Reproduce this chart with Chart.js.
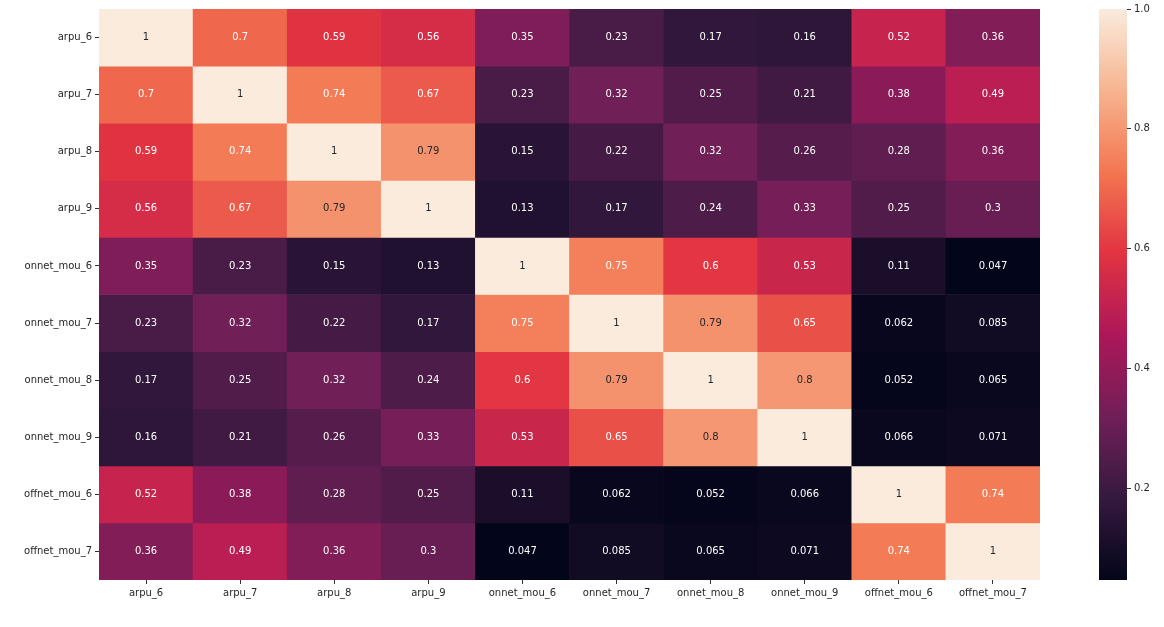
<!DOCTYPE html>
<html>
<head>
<meta charset="utf-8">
<script src="https://cdn.jsdelivr.net/npm/chart.js@4/dist/chart.umd.min.js"></script>
<style>
    html, body { margin: 0; padding: 0; background: #fff; }
    #wrap { position: relative; width: 1164px; height: 627px; }
    #heatBox { position: absolute; left: 0; top: 0; width: 1060px; height: 627px; }
    #barBox { position: absolute; left: 1060px; top: 0; width: 104px; height: 627px; }
</style>
</head>
<body>
<div id="wrap">
    <div id="heatBox"><canvas id="heatChart"></canvas></div>
    <div id="barBox"><canvas id="colorBar"></canvas></div>
</div>
<script>
// Column and row labels (same variables both ways)
const labels = ['arpu_6', 'arpu_7', 'arpu_8', 'arpu_9', 'onnet_mou_6', 'onnet_mou_7',
    'onnet_mou_8', 'onnet_mou_9', 'offnet_mou_6', 'offnet_mou_7'];

// Correlation values, one array per row
const arpu6 = [1, 0.7, 0.59, 0.56, 0.35, 0.23, 0.17, 0.16, 0.52, 0.36];
const arpu7 = [0.7, 1, 0.74, 0.67, 0.23, 0.32, 0.25, 0.21, 0.38, 0.49];
const arpu8 = [0.59, 0.74, 1, 0.79, 0.15, 0.22, 0.32, 0.26, 0.28, 0.36];
const arpu9 = [0.56, 0.67, 0.79, 1, 0.13, 0.17, 0.24, 0.33, 0.25, 0.3];
const onnet6 = [0.35, 0.23, 0.15, 0.13, 1, 0.75, 0.6, 0.53, 0.11, 0.047];
const onnet7 = [0.23, 0.32, 0.22, 0.17, 0.75, 1, 0.79, 0.65, 0.062, 0.085];
const onnet8 = [0.17, 0.25, 0.32, 0.24, 0.6, 0.79, 1, 0.8, 0.052, 0.065];
const onnet9 = [0.16, 0.21, 0.26, 0.33, 0.53, 0.65, 0.8, 1, 0.066, 0.071];
const offnet6 = [0.52, 0.38, 0.28, 0.25, 0.11, 0.062, 0.052, 0.066, 1, 0.74];
const offnet7 = [0.36, 0.49, 0.36, 0.3, 0.047, 0.085, 0.065, 0.071, 0.74, 1];
const rows = [arpu6, arpu7, arpu8, arpu9, onnet6, onnet7, onnet8, onnet9, offnet6, offnet7];

// Colour bar range and ticks
const vmin = 0.047;
const vmax = 1;
const barTicks = [0.2, 0.4, 0.6, 0.8, 1.0];

// seaborn "rocket" colormap stops
const rocket = [
    [0, '#03051a'], [1 / 7, '#35193e'], [2 / 7, '#701f57'], [3 / 7, '#ad1759'],
    [4 / 7, '#e13342'], [5 / 7, '#f37651'], [6 / 7, '#f6b48f'], [1, '#faebdd']
];

const FONT = { family: 'DejaVu Sans', size: 10 };
const DARK = '#262626';

function hexToRgb(h) {
    return [parseInt(h.slice(1, 3), 16), parseInt(h.slice(3, 5), 16), parseInt(h.slice(5, 7), 16)];
}

function colorAt(v) {
    let t = (v - vmin) / (vmax - vmin);
    t = Math.max(0, Math.min(1, t));
    for (let i = 1; i < rocket.length; i++) {
        if (t <= rocket[i][0]) {
            const [t0, c0] = rocket[i - 1];
            const [t1, c1] = rocket[i];
            const f = (t - t0) / (t1 - t0);
            const a = hexToRgb(c0), b = hexToRgb(c1);
            return a.map((x, k) => Math.round(x + (b[k] - x) * f));
        }
    }
    return hexToRgb(rocket[rocket.length - 1][1]);
}

function rgbStr(c) {
    return 'rgb(' + c.join(',') + ')';
}

// same rule seaborn uses to pick annotation colour
function luminance(c) {
    const lin = c.map(x => {
        x = x / 255;
        return x <= 0.03928 ? x / 12.92 : Math.pow((x + 0.055) / 1.055, 2.4);
    });
    return 0.2126 * lin[0] + 0.7152 * lin[1] + 0.0722 * lin[2];
}

const annotate = {
    id: 'annotate',
    afterDatasetsDraw(chart) {
        const ctx = chart.ctx;
        ctx.save();
        ctx.font = '10px "DejaVu Sans"';
        ctx.textAlign = 'center';
        ctx.textBaseline = 'middle';
        chart.data.datasets.forEach((ds, i) => {
            const meta = chart.getDatasetMeta(i);
            meta.data.forEach((el, j) => {
                const v = rows[i][j];
                ctx.fillStyle = luminance(colorAt(v)) > 0.408 ? DARK : '#ffffff';
                ctx.fillText(String(v), el.x, (el.y + el.base) / 2);
            });
        });
        ctx.restore();
    }
};

function initHeatmap() {
    const ctx = document.getElementById('heatChart').getContext('2d');

    const datasets = rows.map((row, i) => ({
        label: labels[i],
        data: row.map(() => [i, i + 1]),
        backgroundColor: row.map(v => rgbStr(colorAt(v))),
        borderWidth: 0,
        barPercentage: 1,
        categoryPercentage: 1,
        grouped: false
    }));

    new Chart(ctx, {
        type: 'bar',
        data: { labels: labels, datasets: datasets },
        plugins: [annotate],
        options: {
            responsive: true,
            maintainAspectRatio: false,
            animation: false,
            layout: { padding: { left: 0, right: 20, top: 7, bottom: 0 } },
            plugins: {
                legend: { display: false },
                tooltip: { enabled: false }
            },
            scales: {
                x: {
                    type: 'category',
                    offset: true,
                    grid: {
                        offset: false,
                        drawOnChartArea: false,
                        tickLength: 4,
                        color: '#333333'
                    },
                    border: { display: false },
                    ticks: {
                        color: DARK,
                        font: FONT,
                        padding: 3,
                        maxRotation: 0,
                        autoSkip: false
                    },
                    afterFit(scale) { scale.height = 47; }
                },
                y: {
                    type: 'linear',
                    min: 0,
                    max: rows.length,
                    reverse: true,
                    grid: {
                        drawOnChartArea: false,
                        tickLength: 4,
                        color: '#333333'
                    },
                    border: { display: false },
                    ticks: {
                        color: DARK,
                        font: FONT,
                        padding: 3,
                        autoSkip: false,
                        callback: (v) => labels[Math.round(v - 0.5)]
                    },
                    afterBuildTicks(scale) {
                        scale.ticks = rows.map((r, i) => ({ value: i + 0.5 }));
                    },
                    afterFit(scale) { scale.width = 99; }
                }
            }
        }
    });
}

function initColorBar() {
    const ctx = document.getElementById('colorBar').getContext('2d');

    new Chart(ctx, {
        type: 'bar',
        data: {
            labels: [''],
            datasets: [{
                data: [[vmin, vmax]],
                backgroundColor: (c) => {
                    const area = c.chart.chartArea;
                    if (!area) return null;
                    const g = c.chart.ctx.createLinearGradient(0, area.bottom, 0, area.top);
                    rocket.forEach(([t, col]) => g.addColorStop(t, col));
                    return g;
                },
                borderWidth: 0,
                barPercentage: 1,
                categoryPercentage: 1
            }]
        },
        options: {
            responsive: true,
            maintainAspectRatio: false,
            animation: false,
            layout: { padding: { left: 39, right: 0, top: 7, bottom: 47 } },
            plugins: {
                legend: { display: false },
                tooltip: { enabled: false }
            },
            scales: {
                x: { display: false },
                y: {
                    position: 'right',
                    min: vmin,
                    max: vmax,
                    grid: {
                        drawOnChartArea: false,
                        tickLength: 4,
                        color: '#333333'
                    },
                    border: { display: false },
                    ticks: {
                        color: DARK,
                        font: FONT,
                        padding: 3,
                        callback: (v) => v.toFixed(1)
                    },
                    afterBuildTicks(scale) {
                        scale.ticks = barTicks.map(v => ({ value: v }));
                    },
                    afterFit(scale) { scale.width = 37; }
                }
            }
        }
    });
}

document.addEventListener('DOMContentLoaded', function () {
    initHeatmap();
    initColorBar();
});
</script>
</body>
</html>
